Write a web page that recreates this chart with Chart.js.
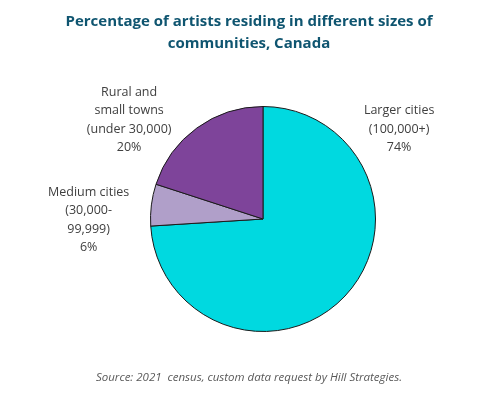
<!DOCTYPE html>
<html>
<head>
<meta charset="utf-8">
<script src="https://cdn.jsdelivr.net/npm/chart.js@4"></script>
<style>
  html, body { margin: 0; padding: 0; background: #fff; }
  #wrap { width: 498px; height: 397px; }
</style>
</head>
<body>
<div id="wrap"><canvas id="pieChart" width="498" height="397"></canvas></div>
<script>
// data
var categories = ['Larger cities (100,000+)', 'Medium cities (30,000-99,999)', 'Rural and small towns (under 30,000)'];
var shares = [74, 6, 20];
var labelLines = [
    ['Larger cities', '(100,000+)'],
    ['Medium cities', '(30,000-', '99,999)'],
    ['Rural and', 'small towns', '(under 30,000)']
];
var sliceColors = ['#00D9E0', '#B09FC9', '#7E449A'];
// where each label sits, relative to the pie centre in units of radius
var labelOffsets = [[1.21, -0.80], [-1.55, 0.01], [-1.19, -0.88]];
var titleLines = ['Percentage of artists residing in different sizes of', 'communities, Canada'];
var sourceNote = 'Source: 2021  census, custom data request by Hill Strategies.';

var sliceLabels = {
    id: 'sliceLabels',
    afterDatasetsDraw: function (chart) {
        var ctx = chart.ctx;
        var arcs = chart.getDatasetMeta(0).data;
        if (!arcs.length) return;
        var cx = arcs[0].x, cy = arcs[0].y, r = arcs[0].outerRadius;
        ctx.save();
        ctx.font = '12.5px "Open Sans"';
        ctx.fillStyle = '#404040';
        ctx.textAlign = 'center';
        ctx.textBaseline = 'middle';
        var lh = 18.5;
        arcs.forEach(function (arc, i) {
            var lines = labelLines[i].concat([shares[i] + '%']);
            var x = cx + labelOffsets[i][0] * r;
            var y = cy + labelOffsets[i][1] * r - (lines.length - 1) * lh / 2;
            lines.forEach(function (t, k) { ctx.fillText(t, x, y + k * lh); });
        });

        // title and source, centred on the whole canvas
        var mid = chart.width / 2;
        ctx.font = 'bold 15px "Open Sans"';
        ctx.fillStyle = '#0F5570';
        titleLines.forEach(function (t, k) { ctx.fillText(t, mid, 22 + k * 22); });
        ctx.font = 'italic 11.5px "Open Sans"';
        ctx.fillStyle = '#595959';
        ctx.fillText(sourceNote, mid, chart.height - 19);
        ctx.restore();
    }
};

var ctx = document.getElementById('pieChart').getContext('2d');
var pieChart = new Chart(ctx, {
    type: 'pie',
    data: {
        labels: categories,
        datasets: [{
            data: shares,
            backgroundColor: sliceColors,
            borderColor: '#1a1a1a',
            borderWidth: 1
        }]
    },
    options: {
        responsive: false,
        animation: false,
        layout: { padding: { left: 28, right: 0, top: 106, bottom: 65 } },
        plugins: {
            legend: { display: false },
            tooltip: { enabled: false },
            title: { display: false }
        }
    },
    plugins: [sliceLabels]
});
</script>
</body>
</html>
